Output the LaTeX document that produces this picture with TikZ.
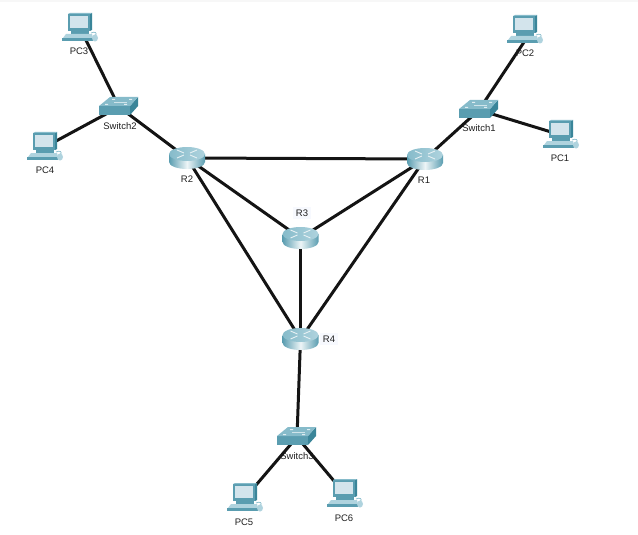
\documentclass[tikz,border=0pt]{standalone}
\usepackage{fontspec}
\setmainfont{Liberation Sans}
\definecolor{tealA}{HTML}{5A9DB0}
\definecolor{tealB}{HTML}{3A8599}
\definecolor{tealC}{HTML}{86BBCA}
\definecolor{tealD}{HTML}{AFD3DE}
\definecolor{screenC}{HTML}{D3E4EC}
\definecolor{labelbg}{HTML}{F7F9FE}
\tikzset{
  x=1pt,y=-1pt,
  link/.style={line width=3pt,black!92},
  lbl/.style={font=\fontsize{9.5}{10}\selectfont,text=black!88,inner sep=0.5pt},
  lblbox/.style={lbl,fill=labelbg,inner sep=2.5pt},
  router/.pic={
    \shade[left color=tealA,right color=tealA,middle color=white!85!tealC] (-18,-4) -- (-18,4) arc[start angle=180,end angle=0,x radius=18,y radius=7] -- (18,-4) -- cycle;
    \shade[left color=tealC,right color=tealD] (0,-4) ellipse[x radius=18,y radius=7];
    \draw[white!80!tealC,line width=0.9pt] (-10,-8) -- (-3,-5) (10,-8) -- (3,-5) (-10,0) -- (-3,-3) (10,0) -- (3,-3);
  },
  switchicon/.pic={
    \fill[tealA] (-20,-1) -- (11,-1) -- (11,8) -- (-20,8) -- cycle;
    \fill[tealB] (11,-1) -- (19,-10) -- (19,-1) -- (11,8) -- cycle;
    \fill[tealC] (-20,-1) -- (-9,-10) -- (19,-10) -- (11,-1) -- cycle;
    \fill[white!60!tealD] (-14,-3) rectangle (-11,-2) (-7,-8) rectangle (-4,-7) (5,-3) rectangle (8,-2) (10,-8) rectangle (13,-7);
    \draw[white!60!tealC,line width=0.5pt] (-5,-5) -- (8,-5);
  },
  pcicon/.pic={
    \fill[tealA] (-12,-14) -- (10,-14) -- (10,3) -- (-12,3) -- cycle;
    \fill[tealB] (10,-14) -- (12,-15) -- (12,2) -- (10,3) -- cycle;
    \fill[tealC] (-12,-14) -- (-10,-15) -- (12,-15) -- (10,-14) -- cycle;
    \fill[screenC] (-10,-12) rectangle (8,0);
    \fill[tealA] (-9,3) rectangle (9,8);
    \fill[tealD] (-14,6) -- (12,6) -- (13,10) -- (-17,10) -- cycle;
    \fill[tealA] (-18,10) -- (13,10) -- (13,13) -- (-18,13) -- cycle;
    \draw[tealC,line width=0.7pt] (11,5) .. controls (15,3) and (18,5) .. (15,8);
    \fill[tealD] (15,10) ellipse[x radius=3,y radius=3.5];
  },
}
\begin{document}
\begin{tikzpicture}
\useasboundingbox (0,0) rectangle (638,535);
\fill[black!3] (0,0) rectangle (638,2);
% device positions
\coordinate (r1) at (425,159);
\coordinate (r2) at (187,158);
\coordinate (r3) at (300.5,238);
\coordinate (r4) at (300.5,339);
\coordinate (s1) at (479,110);
\coordinate (s2) at (119,107);
\coordinate (s3) at (297,437);
\coordinate (pc1) at (561,135);
\coordinate (pc2) at (525,30);
\coordinate (pc2port) at (532,30);
\coordinate (pc3) at (80,28);
\coordinate (pc4) at (45,147);
\coordinate (pc5) at (245,498);
\coordinate (pc6) at (345,494);
% the switch label lies under its links
\node[lbl] (ls3) at (297,456) {Switch3};
% connectors
\draw[link] (r2) -- (r1);
\draw[link] (r2) -- (r3);
\draw[link] (r1) -- (r3);
\draw[link] (r2) -- (r4);
\draw[link] (r1) -- (r4);
\draw[link] (r3) -- (r4);
\draw[link] (r1) -- (s1);
\draw[link] (r2) -- (s2);
\draw[link] (r4) -- (s3);
\draw[link] (s1) -- (pc1);
\draw[link] (s1) -- (pc2port);
\draw[link] (s2) -- (pc3);
\draw[link] (s2) -- (pc4);
\draw[link] (s3) -- (pc5);
\draw[link] (s3) -- (pc6);
% labels
\node[lbl] (lr1) at (424,180) {R1};
\node[lbl] (lr2) at (187,179) {R2};
\node[lblbox] (lr3) at (302,213) {R3};
\node[lblbox] (lr4) at (329,339) {R4};
\node[lbl] (ls1) at (479,128) {Switch1};
\node[lbl] (ls2) at (120,126) {Switch2};
\node[lbl] (lp1) at (560,158) {PC1};
\node[lbl] (lp2) at (525,53) {PC2};
\node[lbl] (lp3) at (79,51) {PC3};
\node[lbl] (lp4) at (45,170) {PC4};
\node[lbl] (lp5) at (244,522) {PC5};
\node[lbl] (lp6) at (344,518) {PC6};
% icons
\pic at (r1) {router};
\pic at (r2) {router};
\pic at (r3) {router};
\pic at (r4) {router};
\pic at (s1) {switchicon};
\pic at (s2) {switchicon};
\pic at (s3) {switchicon};
\pic at (pc1) {pcicon};
\pic at (pc2) {pcicon};
\pic at (pc3) {pcicon};
\pic at (pc4) {pcicon};
\pic at (pc5) {pcicon};
\pic at (pc6) {pcicon};
\end{tikzpicture}
\end{document}
